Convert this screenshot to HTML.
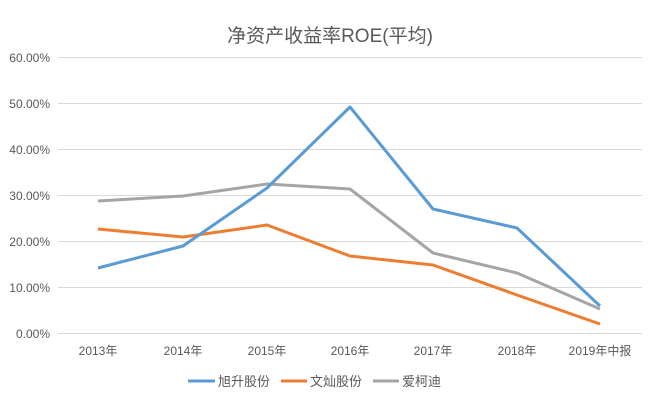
<!DOCTYPE html>
<html><head><meta charset="utf-8"><style>
html,body{margin:0;padding:0;background:#fff;}
svg text{font-family:"Liberation Sans","Noto Sans CJK SC",sans-serif;fill:#595959;}
</style></head><body>
<svg width="660" height="406" viewBox="0 0 660 406" xmlns="http://www.w3.org/2000/svg">
<text x="330" y="42" font-size="19" text-anchor="middle">净资产收益率ROE(平均)</text>
<g stroke="#d9d9d9" stroke-width="1">
<line x1="58" x2="642" y1="57.5" y2="57.5"/>
<line x1="58" x2="642" y1="103.5" y2="103.5"/>
<line x1="58" x2="642" y1="149.5" y2="149.5"/>
<line x1="58" x2="642" y1="195.5" y2="195.5"/>
<line x1="58" x2="642" y1="241.5" y2="241.5"/>
<line x1="58" x2="642" y1="287.5" y2="287.5"/>
<line x1="58" x2="642" y1="333.5" y2="333.5"/>
</g>
<g font-size="12" text-anchor="end">
<text x="50" y="62">60.00%</text>
<text x="50" y="108">50.00%</text>
<text x="50" y="154">40.00%</text>
<text x="50" y="200">30.00%</text>
<text x="50" y="246">20.00%</text>
<text x="50" y="292">10.00%</text>
<text x="50" y="338">0.00%</text>
</g>
<g font-size="12" text-anchor="middle">
<text x="98" y="355">2013年</text>
<text x="183" y="355">2014年</text>
<text x="267" y="355">2015年</text>
<text x="350" y="355">2016年</text>
<text x="433" y="355">2017年</text>
<text x="517" y="355">2018年</text>
<text x="600" y="355">2019年中报</text>
</g>
<g fill="none" stroke-width="3" stroke-linejoin="round">
<polyline stroke="#a5a5a5" points="98,201 183,196 267,184 350,189 433,253 517,273 600,309"/>
<polyline stroke="#ed7d31" points="98,229 183,237 267,225 350,256 433,265 517,295 600,324"/>
<polyline stroke="#5b9bd5" points="98,268 183,246 267,188 350,107 433,209 517,228 600,306"/>
</g>
<g font-size="13">
<line x1="188" x2="215" y1="381" y2="381" stroke="#5b9bd5" stroke-width="3"/>
<text x="218" y="386">旭升股份</text>
<line x1="281" x2="307" y1="381" y2="381" stroke="#ed7d31" stroke-width="3"/>
<text x="310" y="386">文灿股份</text>
<line x1="373" x2="399" y1="381" y2="381" stroke="#a5a5a5" stroke-width="3"/>
<text x="402" y="386">爱柯迪</text>
</g>
</svg>
</body></html>
